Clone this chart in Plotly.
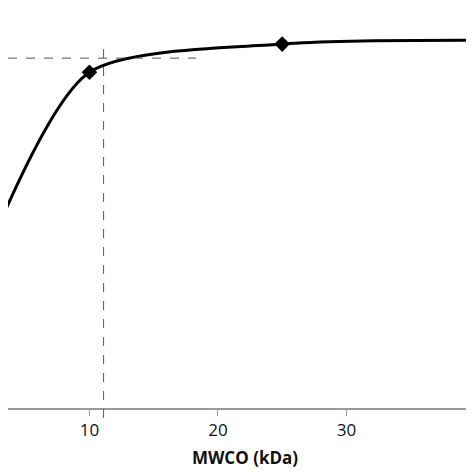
import plotly.graph_objects as go

mwco = [3, 10, 25, 40]
rejection = [48.5, 88.4, 95.8, 96.8]
cutoff_x = 11.1
cutoff_y = 92.1

fig = go.Figure()
fig.add_trace(go.Scatter(
    x=mwco, y=rejection, mode='lines+markers',
    line=dict(color='black', width=3, shape='spline', smoothing=0.75),
    marker=dict(symbol='diamond', size=12, color='black'),
    cliponaxis=True, showlegend=False))

fig.add_shape(type='line', x0=3.66, x1=18.3, y0=cutoff_y, y1=cutoff_y,
              line=dict(color='#555', width=1, dash='dash'))
fig.add_shape(type='line', x0=cutoff_x, x1=cutoff_x, yref='paper', y0=-0.025, y1=0.917,
              line=dict(color='#555', width=1, dash='dash'))

fig.update_layout(
    width=474, height=474, margin=dict(l=0, r=0, t=0, b=74),
    plot_bgcolor='white', paper_bgcolor='white',
    font=dict(family='Open Sans', color='#111'),
    xaxis=dict(range=[3.66, 40.55], tickvals=[10, 20, 30, 40], showgrid=False,
               automargin=False,
               zeroline=False, showline=True, linecolor='#999', linewidth=1.5,
               ticks='outside', ticklen=6, tickcolor='#999', tickfont=dict(size=17),
               title=dict(text='<b>MWCO (kDa)</b>', font=dict(size=17), standoff=12)),
    yaxis=dict(range=[0, 105.3], visible=False, automargin=False),
)
fig.write_html("out.html")
